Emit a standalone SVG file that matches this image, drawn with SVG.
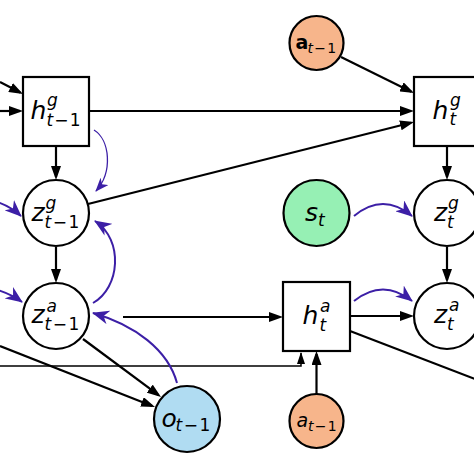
<svg xmlns="http://www.w3.org/2000/svg" width="474" height="474" viewBox="0 0 474 474">
<style>
.box{fill:#fff;stroke:#000;stroke-width:2.2}
.nd{fill:#fff;stroke:#000;stroke-width:2.2}
.orange{fill:#f7b58b}
.blue{fill:#b0dcf2}
.green{fill:#96f0b4}
.ln{fill:none;stroke:#000;stroke-width:2.2;marker-end:url(#ah)}
.pl{fill:none;stroke:#3c1fa6;stroke-width:2;marker-end:url(#ph)}
text{font-family:"DejaVu Sans","Liberation Sans",sans-serif;fill:#000}
.i{font-size:25px;font-style:italic}
.si{font-size:17px;font-style:italic}
.s{font-size:17px}
.ai{font-size:19px;font-style:italic}
.ab{font-size:19px;font-weight:bold}
.asi{font-size:14px;font-style:italic}
.as{font-size:14px}
</style>
<defs>
<marker id="ah" viewBox="0 0 14 10" refX="11" refY="5" markerWidth="14" markerHeight="10" markerUnits="userSpaceOnUse" orient="auto">
<path d="M0,0 L14,5 L0,10 z" fill="#000"/>
</marker>
<marker id="ahs" viewBox="0 0 12 8" refX="11" refY="4" markerWidth="12" markerHeight="8" markerUnits="userSpaceOnUse" orient="auto">
<path d="M0,0 L12,4 L0,8 z" fill="#000"/>
</marker>
<marker id="ph" viewBox="0 0 17 14" refX="16" refY="7" markerWidth="17" markerHeight="14" markerUnits="userSpaceOnUse" orient="auto">
<path d="M0,0 L17,7 L0,14 L5,7 z" fill="#3c1fa6"/>
</marker>
<marker id="phs" viewBox="0 0 14 11" refX="13" refY="5.5" markerWidth="14" markerHeight="11" markerUnits="userSpaceOnUse" orient="auto">
<path d="M0,0 L14,5.5 L0,11 L4,5.5 z" fill="#3c1fa6"/>
</marker>
</defs>
<g id="connectors">
<line class="ln" x1="0" y1="82" x2="20.3" y2="92.6"/>
<line class="ln" x1="0" y1="111" x2="20" y2="111"/>
<line class="ln" x1="89" y1="111" x2="411" y2="111"/>
<line class="ln" x1="341" y1="57" x2="411.3" y2="91.7"/>
<line class="ln" x1="88" y1="204" x2="411.1" y2="122.7"/>
<line class="ln" x1="56" y1="146" x2="56" y2="177"/>
<line class="ln" x1="56" y1="247" x2="56" y2="280"/>
<line class="ln" x1="447" y1="146" x2="447" y2="177"/>
<line class="ln" x1="447" y1="247" x2="447" y2="280"/>
<line class="ln" x1="123" y1="317" x2="280" y2="317"/>
<line class="ln" x1="350" y1="316" x2="411" y2="316"/>
<line class="ln" x1="316.5" y1="394" x2="316.5" y2="354"/>
<line class="ln" x1="83" y1="339" x2="158.6" y2="395.2"/>
<line class="ln" x1="0" y1="346" x2="152.2" y2="405.9"/>
<path d="M0,366 H301 V353" fill="none" stroke="#000" stroke-width="1.5" marker-end="url(#ahs)"/>
<line x1="350" y1="331" x2="480" y2="381" stroke="#000" stroke-width="2.2"/>
<path class="pl" style="stroke-width:1.3;marker-end:url(#phs)" d="M94,130 C110,140 113,172 96,191"/>
<path class="pl" d="M93,303 C120,288 124,240 95,221"/>
<path class="pl" d="M177,383 C168,350 135,325 93,313"/>
<path class="pl" d="M-10,200 Q8,204 21,216"/>
<path class="pl" d="M-10,288 Q8,292 22,302"/>
<path class="pl" d="M354,216 Q383,192 412,216"/>
<path class="pl" d="M354,301 Q383,278 412,301"/>
</g>
<g id="hg_tm1">
<rect class="box" x="23" y="77" width="66" height="69"/>
<text><tspan class="i" x="30.5" y="119">h</tspan><tspan class="si" x="47" y="106">g</tspan><tspan class="si" x="46.5" y="126">t</tspan><tspan class="s" dx="1.2">−</tspan><tspan class="s" dx="1.2">1</tspan></text>
</g>
<g id="zg_tm1">
<circle class="nd" cx="56" cy="213" r="33"/>
<text><tspan class="i" x="31.5" y="221">z</tspan><tspan class="si" x="45.5" y="209">g</tspan><tspan class="si" x="44.5" y="228">t</tspan><tspan class="s" dx="1.5">−</tspan><tspan class="s" dx="1.5">1</tspan></text>
</g>
<g id="za_tm1">
<circle class="nd" cx="56" cy="316" r="33"/>
<text><tspan class="i" x="31.5" y="323">z</tspan><tspan class="si" x="46.5" y="312">a</tspan><tspan class="si" x="44.5" y="330">t</tspan><tspan class="s" dx="1.5">−</tspan><tspan class="s" dx="1.5">1</tspan></text>
</g>
<g id="o_tm1">
<circle class="nd blue" cx="187" cy="419" r="33"/>
<text><tspan class="i" x="161.5" y="427">o</tspan><tspan class="si" x="175.5" y="431">t</tspan><tspan class="s" dx="1.5">−</tspan><tspan class="s" dx="1.5">1</tspan></text>
</g>
<g id="a_bold_tm1">
<circle class="nd orange" cx="316.5" cy="43" r="27"/>
<text><tspan class="ab" x="295.5" y="49">a</tspan><tspan class="asi" x="307.5" y="53">t</tspan><tspan class="as" dx="1.2">−</tspan><tspan class="as" dx="1.2">1</tspan></text>
</g>
<g id="s_t">
<circle class="nd green" cx="316.5" cy="213" r="33"/>
<text><tspan class="i" x="305" y="221">s</tspan><tspan class="si" x="318" y="226">t</tspan></text>
</g>
<g id="ha_t">
<rect class="box" x="283" y="282" width="67" height="69"/>
<text><tspan class="i" x="302.5" y="324">h</tspan><tspan class="si" x="320" y="312">a</tspan><tspan class="si" x="319.5" y="331">t</tspan></text>
</g>
<g id="a_tm1">
<circle class="nd orange" cx="316.5" cy="421" r="27"/>
<text><tspan class="ai" x="296.5" y="427">a</tspan><tspan class="asi" x="308" y="431">t</tspan><tspan class="as" dx="1.2">−</tspan><tspan class="as" dx="1.2">1</tspan></text>
</g>
<g id="hg_t">
<rect class="box" x="414" y="77" width="66" height="69"/>
<text><tspan class="i" x="432.5" y="119">h</tspan><tspan class="si" x="450" y="106">g</tspan><tspan class="si" x="449.5" y="125">t</tspan></text>
</g>
<g id="zg_t">
<circle class="nd" cx="447" cy="213" r="33"/>
<text><tspan class="i" x="434" y="221">z</tspan><tspan class="si" x="448" y="209">g</tspan><tspan class="si" x="447" y="228">t</tspan></text>
</g>
<g id="za_t">
<circle class="nd" cx="447" cy="316" r="33"/>
<text><tspan class="i" x="434" y="323">z</tspan><tspan class="si" x="449" y="311">a</tspan><tspan class="si" x="447" y="330">t</tspan></text>
</g>
</svg>
